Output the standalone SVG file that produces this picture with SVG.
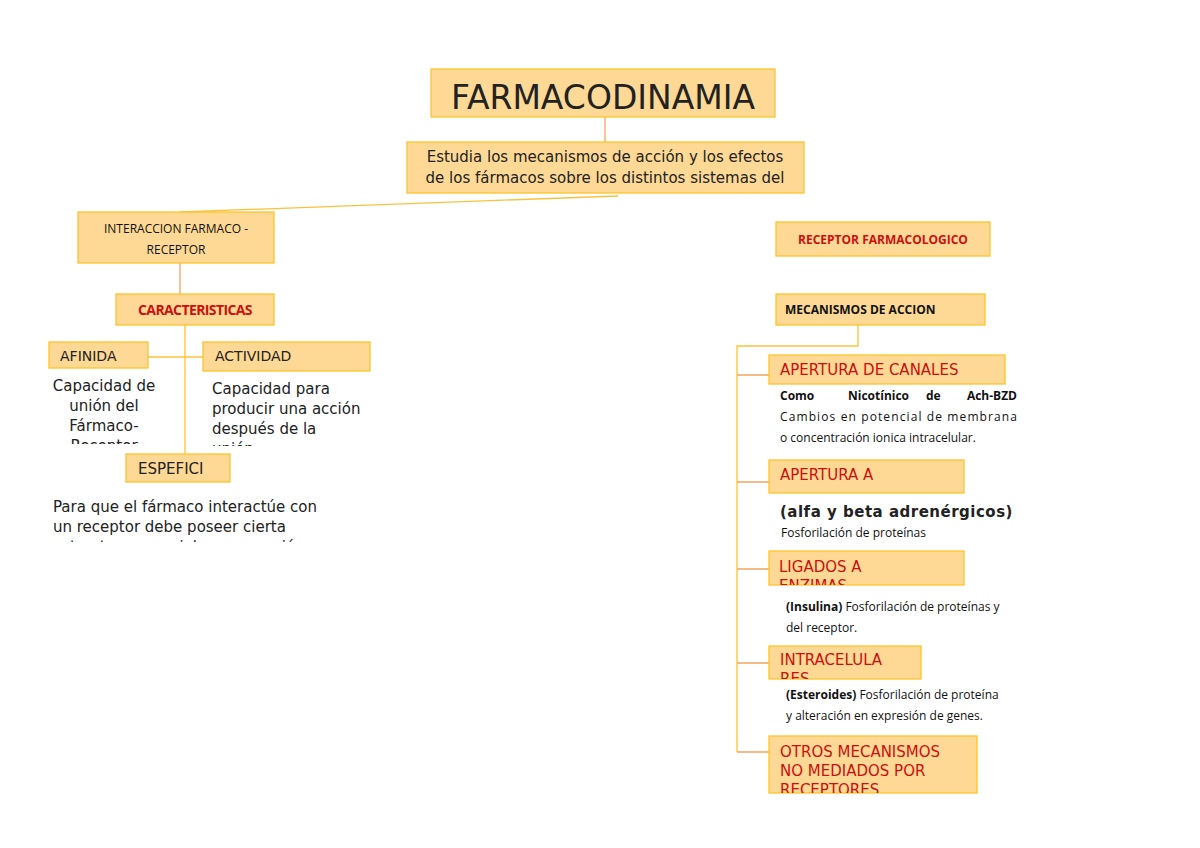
<svg xmlns="http://www.w3.org/2000/svg" width="1200" height="848" viewBox="0 0 1200 848">
<style>
.b{fill:#fdd995;stroke:#fcc42c;stroke-width:1.3}
.c{fill:none;stroke:#f9c23c;stroke-width:1.3}
.o{fill:none;stroke:#f4a460;stroke-width:1.3}
.d{font-family:"DejaVu Sans",sans-serif;fill:#222}
.k{font-family:"Open Sans","Liberation Sans",sans-serif;fill:#111}
.r{fill:#cc1010}
</style>
<defs>
<clipPath id="c1"><rect x="40" y="370" width="130" height="74"/></clipPath>
<clipPath id="c2"><rect x="200" y="372" width="200" height="74"/></clipPath>
<clipPath id="c3"><rect x="40" y="490" width="340" height="52"/></clipPath>
<clipPath id="c4"><rect x="769" y="551" width="195" height="34"/></clipPath>
<clipPath id="c5"><rect x="769" y="646" width="152" height="33"/></clipPath>
<clipPath id="c6"><rect x="769" y="736" width="208" height="57"/></clipPath>
</defs>
<rect width="1200" height="848" fill="#fff"/>
<g id="connectors">
<path class="o" d="M605 117V142"/>
<path class="c" d="M618 196L180 212"/>
<path class="o" d="M180 263V294"/>
<path class="c" d="M185 325V455M148 357H203"/>
<path class="c" d="M858 325V346H737V752"/>
<path class="o" d="M737 375H770M737 482H770M737 569H770M737 663H770M737 752H770"/>
</g>
<g id="n-farmacodinamia"><rect class="b" x="431" y="69" width="344" height="48"/><text class="d" x="603" y="109" font-size="33" text-anchor="middle">FARMACODINAMIA</text></g>
<g id="n-estudia"><rect class="b" x="407" y="142" width="397" height="51"/><text class="d" x="605" y="162" font-size="15" text-anchor="middle">Estudia los mecanismos de acción y los efectos</text><text class="d" x="605" y="183" font-size="15" text-anchor="middle">de los fármacos sobre los distintos sistemas del</text></g>
<g id="n-interaccion"><rect class="b" x="78" y="212" width="196" height="51"/><text class="k" x="176" y="233" font-size="12" text-anchor="middle">INTERACCION FARMACO -</text><text class="k" x="176" y="254" font-size="12" text-anchor="middle">RECEPTOR</text></g>
<g id="n-caracteristicas"><rect class="b" x="116" y="294" width="158" height="31"/><text class="k r" x="195" y="315" font-size="14" font-weight="bold" text-anchor="middle" letter-spacing="-0.6">CARACTERISTICAS</text></g>
<g id="n-afinida"><rect class="b" x="49" y="342" width="99" height="26"/><text class="d" x="60" y="361" font-size="14">AFINIDA</text>
<g clip-path="url(#c1)" class="d" font-size="15" text-anchor="middle"><text x="104" y="391">Capacidad de</text><text x="104" y="411">unión del</text><text x="104" y="431">Fármaco-</text><text x="104" y="451">Receptor</text></g></g>
<g id="n-actividad"><rect class="b" x="203" y="342" width="167" height="29"/><text class="d" x="215" y="361" font-size="14">ACTIVIDAD</text>
<g clip-path="url(#c2)" class="d" font-size="15"><text x="212" y="394">Capacidad para</text><text x="212" y="414">producir una acción</text><text x="212" y="434">después de la</text><text x="212" y="454">unión</text></g></g>
<g id="n-espefici"><rect class="b" x="126" y="454" width="104" height="28"/><text class="d" x="138" y="474" font-size="15">ESPEFICI</text>
<g clip-path="url(#c3)" class="d" font-size="15"><text x="53" y="512">Para que el fármaco interactúe con</text><text x="53" y="532">un receptor debe poseer cierta</text><text x="53" y="552">estructura especial para su unión</text></g></g>
<g id="n-receptor"><rect class="b" x="776" y="222" width="214" height="34"/><text class="k r" x="883" y="244" font-size="12" font-weight="bold" text-anchor="middle">RECEPTOR FARMACOLOGICO</text></g>
<g id="n-mecanismos"><rect class="b" x="776" y="294" width="209" height="31"/><text class="k" x="785" y="314" font-size="12" font-weight="bold">MECANISMOS DE ACCION</text></g>
<g id="n-canales"><rect class="b" x="769" y="355" width="236" height="29"/><text class="d r" x="780" y="375" font-size="15">APERTURA DE CANALES</text>
<g class="k" font-size="12"><text x="780" y="400" font-weight="bold">Como</text><text x="848" y="400" font-weight="bold">Nicotínico</text><text x="926" y="400" font-weight="bold">de</text><text x="1017" y="400" font-weight="bold" text-anchor="end">Ach-BZD</text><text x="780" y="421" textLength="237">Cambios en potencial de membrana</text><text x="780" y="442">o concentración ionica intracelular.</text></g></g>
<g id="n-apertura-a"><rect class="b" x="769" y="460" width="195" height="33"/><text class="d r" x="780" y="480" font-size="15">APERTURA A</text>
<text class="d" x="780" y="517" font-size="15" font-weight="bold" letter-spacing="0.5">(alfa y beta adrenérgicos)</text><text class="k" x="781" y="537" font-size="12">Fosforilación de proteínas</text></g>
<g id="n-ligados"><rect class="b" x="769" y="551" width="195" height="34"/><g clip-path="url(#c4)" class="d r" font-size="15"><text x="779" y="572">LIGADOS A</text><text x="779" y="591">ENZIMAS</text></g>
<text class="k" x="786" y="611" font-size="12"><tspan font-weight="bold">(Insulina)</tspan> Fosforilación de proteínas y</text><text class="k" x="786" y="632" font-size="12">del receptor.</text></g>
<g id="n-intracelular"><rect class="b" x="769" y="646" width="152" height="33"/><g clip-path="url(#c5)" class="d r" font-size="15"><text x="780" y="665">INTRACELULA</text><text x="780" y="684">RES</text></g>
<text class="k" x="786" y="699" font-size="12"><tspan font-weight="bold">(Esteroides)</tspan> Fosforilación de proteína</text><text class="k" x="786" y="720" font-size="12">y alteración en expresión de genes.</text></g>
<g id="n-otros"><rect class="b" x="769" y="736" width="208" height="57"/><g clip-path="url(#c6)" class="d r" font-size="15"><text x="780" y="757">OTROS MECANISMOS</text><text x="780" y="776">NO MEDIADOS POR</text><text x="780" y="795">RECEPTORES</text></g></g>
</svg>
